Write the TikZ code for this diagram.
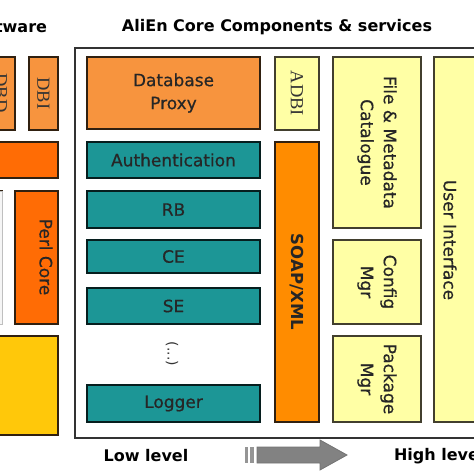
\documentclass[tikz,border=0pt]{standalone}
\usepackage{fontspec}
\setmainfont{DejaVu Sans}
\newfontfamily\serifx{Liberation Serif}
\newfontfamily\comicx[FakeBold=0.6]{DejaVu Sans}
\begin{document}
\begin{tikzpicture}[x=1pt,y=-1pt,
  every node/.style={inner sep=0pt,outer sep=0pt},
  blk/.style={draw=black!75!brown,line width=1.2pt,rectangle},
  obox/.style={blk,fill=dbor},
  tbox/.style={blk,fill=tealc,draw=black!80!tealc},
  ybox/.style={blk,fill=lyel,draw=black!70!olive},
  sbox/.style={blk,fill=soapc},
  dbox/.style={blk,fill=deepor},
  gbox/.style={blk,fill=goldc},
  txt/.style={font=\comicx\fontsize{17}{23}\selectfont,text=black!85,align=center},
  ttl/.style={font=\bfseries\fontsize{16}{19}\selectfont},
  stxt/.style={font=\serifx\fontsize{18.5}{20}\selectfont,text=black!80},
]
\definecolor{dbor}{RGB}{247,148,62}
\definecolor{tealc}{RGB}{28,150,150}
\definecolor{lyel}{RGB}{255,255,165}
\definecolor{soapc}{RGB}{255,140,0}
\definecolor{deepor}{RGB}{255,108,5}
\definecolor{goldc}{RGB}{255,200,10}
\definecolor{arrg}{RGB}{130,130,130}
\useasboundingbox (0,0) rectangle (474,474);
\clip (0,0) rectangle (474,474);
\fill[white] (0,0) rectangle (474,474);
\newcommand\blk[6]{\node[#6,minimum width={#4pt-#2pt},minimum height={#5pt-#3pt}] (#1) at ({(#2+#4)/2},{(#3+#5)/2}) {};}
% titles
\node[ttl,anchor=east] (ttlL) at (47,27) {Software};
\node[ttl] (ttlC) at (277,27) {AliEn Core Components \& services};
% outer frame
\draw[line width=1.4pt,black!80] (500,48) -- (75,48) -- (75,438) -- (500,438);
% left boxes
\blk{dbd}{-15}{57}{15}{130}{obox}
\node[stxt,rotate=-90] (dbdt) at (1,93) {DBD};
\blk{dbi}{29}{57}{58}{130}{obox}
\node[stxt,rotate=-90] (dbit) at (dbi) {DBI};
\blk{lbar}{-20}{142}{58}{178}{dbox}
\blk{lwhite}{-30}{191}{2}{324}{blk}
\draw[black!25,fill=black!4,line width=1pt] (lwhite.north west) rectangle (lwhite.south east);
\blk{perl}{15}{191}{58}{324}{dbox}
\node[txt,rotate=-90] (perlt) at (46,257) {Perl Core};
\blk{gold}{-20}{336}{58}{435}{gbox}
% core components
\blk{dbp}{87}{57}{260}{129}{obox}
\node[txt] (dbpt) at (dbp) {Database\\Proxy};
\blk{auth}{87}{142}{260}{178}{tbox}
\node[txt] (autht) at (auth) {Authentication};
\blk{rb}{87}{191}{260}{228}{tbox}
\node[txt] (rbt) at (rb) {RB};
\blk{ce}{87}{240}{260}{273}{tbox}
\node[txt] (cet) at (ce) {CE};
\blk{se}{87}{288}{260}{324}{tbox}
\node[txt] (set) at (se) {SE};
\node[font=\fontsize{14}{15}\selectfont,rotate=-90,text=black!80] (dots) at (172,354) {(...)};
\blk{log}{87}{385}{260}{422}{tbox}
\node[txt] (logt) at (log) {Logger};
\blk{adbi}{275}{57}{319}{130}{ybox}
\node[stxt,rotate=-90] (adbit) at (adbi) {ADBI};
\blk{soap}{275}{142}{319}{422}{sbox}
\node[txt,font=\bfseries\fontsize{16.5}{19}\selectfont,rotate=-90] (soapt) at (soap) {SOAP/XML};
\blk{fmc}{333}{57}{421}{228}{ybox}
\node[txt,rotate=-90] (fmct) at (fmc) {File \& Metadata\\Catalogue};
\blk{cfg}{333}{240}{421}{324}{ybox}
\node[txt,rotate=-90] (cfgt) at (cfg) {Config\\Mgr};
\blk{pkg}{333}{336}{421}{422}{ybox}
\node[txt,rotate=-90] (pkgt) at (pkg) {Package\\Mgr};
\blk{ui}{434}{57}{500}{422}{ybox}
\node[txt,rotate=-90] (uit) at (450,240) {User Interface};
% bottom
\node[ttl] (low) at (146,456) {Low level};
\node[ttl,anchor=west] (high) at (394,456) {High level};
\coordinate (atail) at (257,455);
\coordinate (atip) at (347,455);
\draw[fill=arrg,draw=black!55,line width=0.8pt] (atail) ++(0,-8) -- (320,447) -- (320,440) -- (atip) -- (320,470) -- (320,463) -- (257,463) -- cycle;
\foreach \a/\b in {245/248,250/254} \fill[arrg!85] (\a,447) rectangle (\b,463);
\end{tikzpicture}
\end{document}
